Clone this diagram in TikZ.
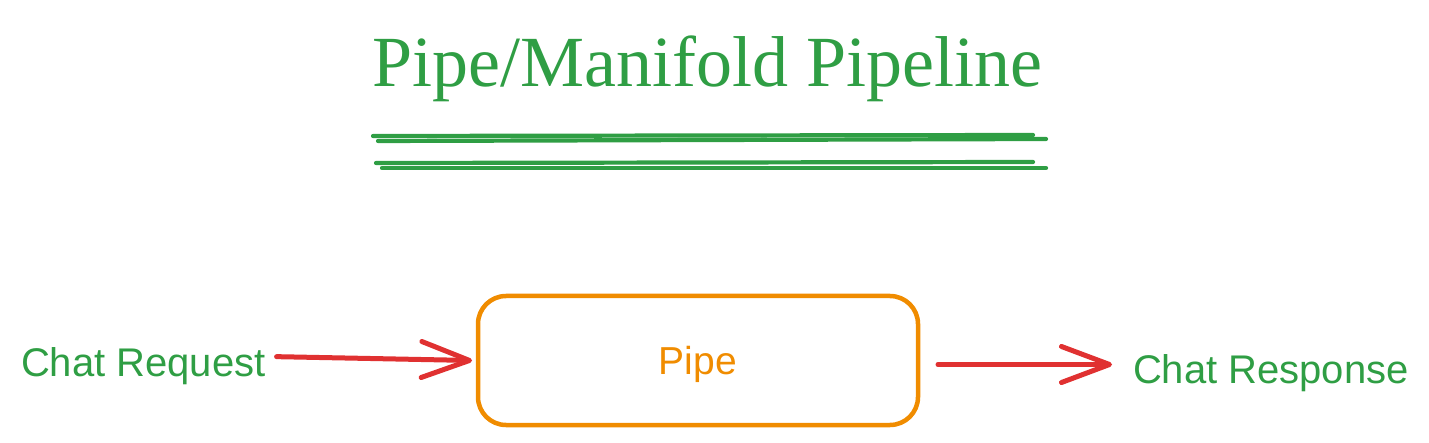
\documentclass[tikz,border=0pt]{standalone}
\usepackage{fontspec}
\setmainfont{Liberation Serif}
\setsansfont{Liberation Sans}
\usetikzlibrary{arrows.meta}
\definecolor{exgreen}{HTML}{2F9E44}
\definecolor{exred}{HTML}{E03131}
\definecolor{exorange}{HTML}{F08C00}
\begin{document}
\begin{tikzpicture}[x=1pt,y=-1pt,
  txt/.style={inner sep=0pt, outer sep=0pt},
  greenline/.style={draw=exgreen, line width=4.2pt, line cap=round},
  redarrow/.style={draw=exred, line width=5pt, line cap=round,
    -{Straight Barb[length=48pt,width=36pt,line width=5pt,round]}},
  pipebox/.style={draw=exorange, line width=4.5pt, rounded corners=28pt,
    minimum width=440pt, minimum height=129pt, inner sep=0pt, outer sep=0pt},
  pipetext/.style={txt, font=\sffamily\fontsize{39}{45}\selectfont, text=exorange}
]
\useasboundingbox (0,0) rectangle (1429,443);
\node[txt, anchor=base, text=exgreen, font=\fontsize{72}{80}\selectfont] (title) at (707,87) {Pipe/Manifold Pipeline};
% double sketchy underlines
\coordinate (u1a) at (373,136); \coordinate (u1b) at (1033,135);
\coordinate (u2a) at (378,141); \coordinate (u2b) at (1046,139);
\coordinate (u3a) at (376,163); \coordinate (u3b) at (1033,162);
\coordinate (u4a) at (382,168); \coordinate (u4b) at (1046,168);
\draw[greenline] (u1a) -- (u1b);
\draw[greenline] (u2a) -- (u2b);
\draw[greenline] (u3a) -- (u3b);
\draw[greenline] (u4a) -- (u4b);
\node[pipebox] (pipe) at (698,360.5) {};
\node[pipetext, anchor=base] (pipelabel) at (698,374) {Pipe};
\node[txt, anchor=base west, text=exgreen, font=\sffamily\fontsize{40}{46}\selectfont] (req) at (21,377) {Chat Request};
\node[txt, anchor=base west, text=exgreen, font=\sffamily\fontsize{40}{46}\selectfont] (resp) at (1133,383) {Chat Response};
\coordinate (a1s) at ([xshift=11pt,yshift=10pt]req.east);
\coordinate (a1t) at ([xshift=-6pt]pipe.west);
\draw[redarrow] (a1s) -- (a1t);
\coordinate (a2s) at ([xshift=20pt,yshift=-4pt]pipe.east);
\coordinate (a2t) at ([xshift=-21pt,yshift=-4pt]pipe.east -| resp.west);
\draw[redarrow] (a2s) -- (a2t);
\end{tikzpicture}
\end{document}
